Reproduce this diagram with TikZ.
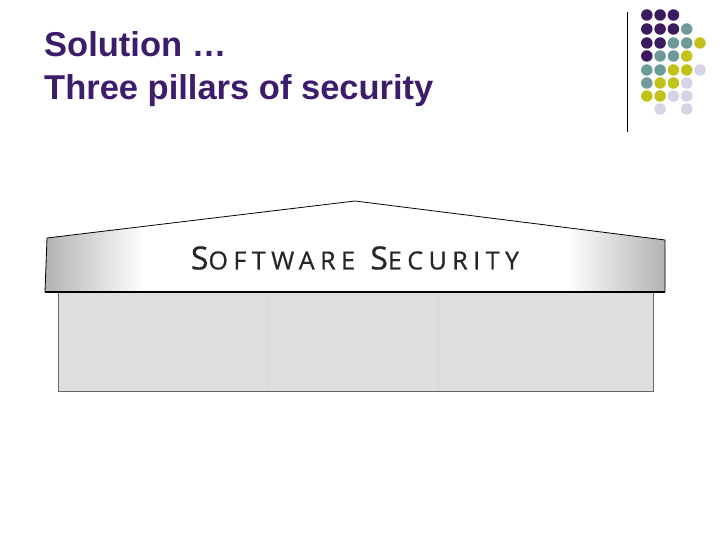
\documentclass[tikz,border=0pt]{standalone}
\usepackage{fontspec}
\setmainfont{Liberation Sans}
\newfontfamily\roofont[LetterSpace=22,FakeBold=0.6]{Open Sans}
\definecolor{pur}{HTML}{3C1A5E}
\definecolor{tea}{HTML}{6F9A9A}
\definecolor{yel}{HTML}{C2C21C}
\definecolor{lav}{HTML}{D4D4E6}
\definecolor{ttl}{HTML}{3D1C6B}
\pgfdeclarehorizontalshading{roofshade}{100bp}{color(0bp)=(black!30); color(25bp)=(black!30); color(33bp)=(white); color(67bp)=(white); color(75bp)=(black!30); color(100bp)=(black!30)}
\tikzset{dot/.style={circle,inner sep=0pt,minimum size=11.5pt},
 title/.style={anchor=base west,inner sep=0pt,text=ttl,font=\fontsize{34.5}{38}\selectfont\bfseries}}
\begin{document}
\begin{tikzpicture}[x=1pt,y=-1pt]
\useasboundingbox (0,0) rectangle (720,540);
\node[title] (t1) at (44,57) {Solution …};
\node[title] (t2) at (44,100) {Three pillars of security};
\coordinate (la) at (627,12); \coordinate (lb) at (627,132);
\draw[line width=0.8pt] (la) -- (lb);
\foreach \r/\cols in {15/{1/pur,2/pur,3/pur},29/{1/pur,2/pur,3/pur,4/tea},43/{1/pur,2/pur,3/tea,4/tea,5/yel},56/{1/pur,2/tea,3/tea,4/yel},70/{1/tea,2/tea,3/yel,4/yel,5/lav},83/{1/tea,2/yel,3/yel,4/lav},96/{1/yel,2/yel,3/lav,4/lav},109/{2/lav,4/lav}}{
  \foreach \c/\col in \cols {\node[dot,fill=\col] (d\r-\c) at ({633.5+13.3*\c},\r) {};}}
% body
\node[draw=gray!80!black,line width=0.8pt,fill=black!13,minimum width=595pt,minimum height=99pt,inner sep=0pt] (body) at (355.5,341.5) {};
\draw[black!16] (268,293) -- (268,390) (438,293) -- (438,390);
% roof
\path[shading=roofshade,draw=black,line width=0.8pt]
 (45,292) -- (47,238) -- (355,201) -- (665,240) -- (665,292) -- cycle;
\draw[line width=1.6pt] (45,292) -- (665,292);
\node[inner sep=0pt,text=black!85,font=\roofont\fontsize{32}{34}\selectfont] (roof) at (355,258) {S{\fontsize{25}{28}\selectfont OFTWARE} S{\fontsize{25}{28}\selectfont ECURITY}};
\end{tikzpicture}
\end{document}
